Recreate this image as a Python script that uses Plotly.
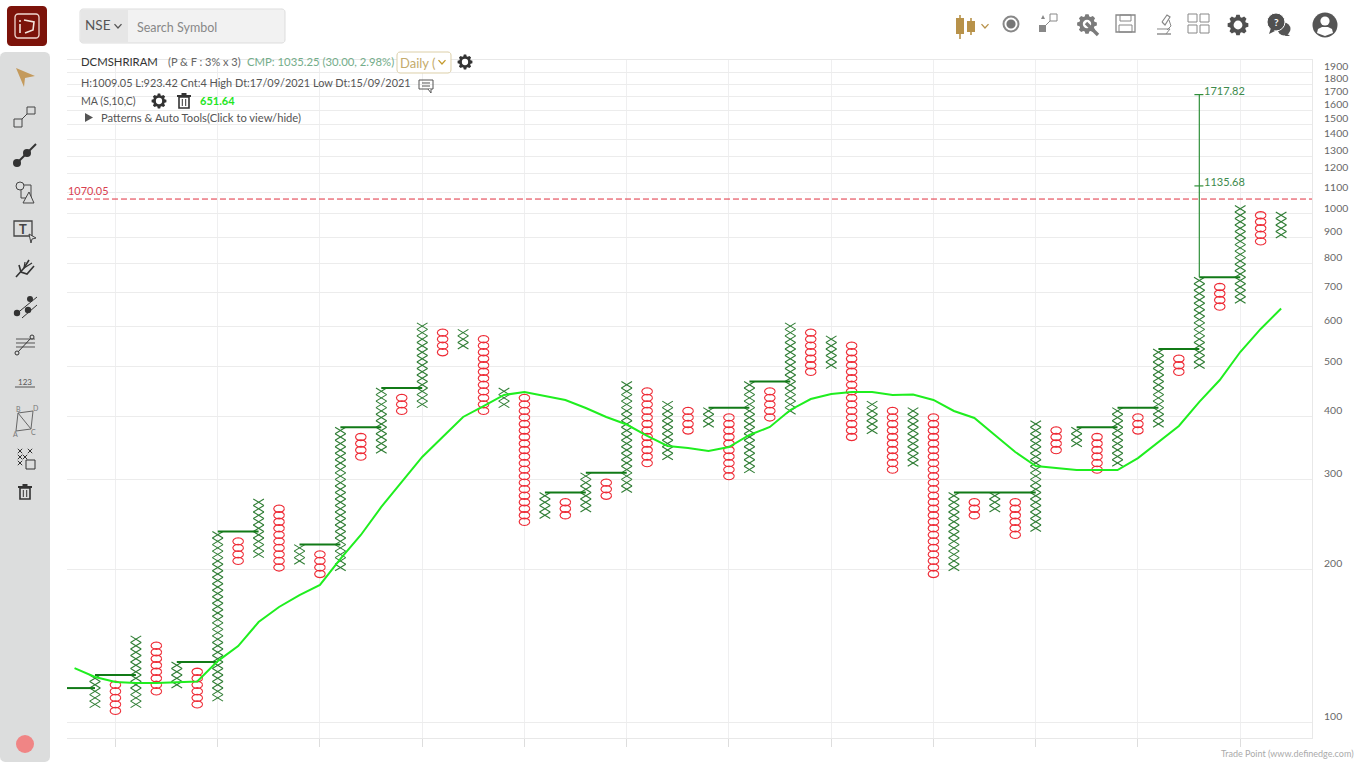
import math
import plotly.graph_objects as go

W, H = 1366, 768
FONT = "Lato"

# P&F ladder, 3% box, read down from the H: value in the header
box_prices = [1039.32, 1009.05, 979.66, 951.13, 923.42, 896.53, 870.42, 845.06, 820.45,
              796.55, 773.35, 750.83, 728.96, 707.72, 687.11, 667.10, 647.67, 628.80,
              610.49, 592.71, 575.44, 558.68, 542.41, 526.61, 511.27, 496.38, 481.92,
              467.88, 454.25, 441.02, 428.18, 415.71, 403.60, 391.84, 380.43, 369.35,
              358.59, 348.15, 338.01, 328.16, 318.60, 309.32, 300.31, 291.56, 283.07,
              274.82, 266.82, 259.05, 251.50, 244.17, 237.06, 230.16, 223.45, 216.95,
              210.63, 204.49, 198.53, 192.75, 187.14, 181.69, 176.40, 171.26, 166.27,
              161.43, 156.73, 152.16, 147.73, 143.43, 139.25, 135.19, 131.25, 127.43,
              123.72, 120.12, 116.62, 113.22, 109.92, 106.72, 103.61]

# One entry per column, left to right
col_kinds = "XOXOXOXOXOXOXOXOXOXOXOXOXOXOXOXOXOXOXOXOXOXOXOXOXOXOXOXOXOX"
col_high = [123.72, 120.12, 147.73, 143.43, 131.25, 127.43, 237.06, 230.16, 274.82, 266.82,
            223.45, 216.95, 380.43, 369.35, 454.25, 441.02, 610.49, 592.71, 592.71, 575.44,
            454.25, 441.02, 283.07, 274.82, 309.32, 300.31, 467.88, 454.25, 428.18, 415.71,
            415.71, 403.60, 467.88, 454.25, 610.49, 592.71, 575.44, 558.68, 428.18, 415.71,
            415.71, 403.60, 283.07, 274.82, 283.07, 274.82, 391.84, 380.43, 380.43, 369.35,
            415.71, 403.60, 542.41, 526.61, 750.83, 728.96, 1039.32, 1009.05, 1009.05]
col_low = [109.92, 106.72, 109.92, 116.62, 120.12, 109.92, 113.22, 210.63, 216.95, 204.49,
           210.63, 198.53, 204.49, 338.01, 348.15, 415.71, 428.18, 542.41, 558.68, 415.71,
           428.18, 251.50, 259.05, 259.05, 266.82, 283.07, 291.56, 328.16, 338.01, 380.43,
           391.84, 309.32, 318.60, 403.60, 415.71, 496.38, 511.27, 369.35, 380.43, 318.60,
           328.16, 198.53, 204.49, 259.05, 266.82, 237.06, 244.17, 348.15, 358.59, 318.60,
           328.16, 380.43, 391.84, 496.38, 511.27, 667.10, 687.11, 896.53, 923.42]

# MA (S,10,C), starts one column before the first visible one
ma_values = [127.7, 122.6, 119.9, 119.3, 119.3, 119.9, 120.2, 131.8, 141.1, 157.3,
             168.4, 177.8, 186.1, 209.4, 233.4, 265.0, 296.8, 332.4, 363.9, 398.5,
             418.8, 440.3, 446.3, 438.3, 430.4, 415.0, 398.5, 385.1, 365.6, 349.4,
             346.2, 341.6, 347.8, 367.3, 380.8, 411.3, 432.3, 442.3, 446.3, 446.3,
             440.3, 441.3, 430.4, 409.5, 396.7, 367.3, 340.0, 319.0, 316.2, 313.3,
             313.3, 313.3, 330.8, 355.8, 382.5, 426.6, 471.1, 534.9, 593.9, 651.64]

# Breakout lines
line_start = [-1.37, 0, 4, 6, 10, 12, 14, 22, 24, 30, 32, 42, 48, 50, 52, 54]
line_end = [0, 2, 6, 8, 12, 14, 16, 24, 26, 32, 34, 46, 50, 52, 54, 56]
line_price = [116.62, 123.72, 131.25, 237.06, 223.45, 380.43, 454.25, 283.07,
              309.32, 415.71, 467.88, 283.07, 380.43, 415.71, 542.41, 750.83]

target_col = 54
target_base = 750.83
target_prices = [1717.82, 1135.68]
last_price = 1070.05

y_ticks = [100, 200, 300, 400, 500, 600, 700, 800, 900, 1000, 1100, 1200, 1300,
           1400, 1500, 1600, 1700, 1800, 1900]
x_ticks = [1, 6, 11, 16, 21, 26, 31, 36, 41, 46, 51, 56]

HALF_W = 0.26  # mark half width, in columns

# Build X and O marks for every box of every column
x_x, x_y, o_x, o_y = [], [], [], []
for c, kind in enumerate(col_kinds):
    for i, top in enumerate(box_prices):
        if top > col_high[c] or top < col_low[c]:
            continue
        bot = box_prices[i + 1]
        if kind == "X":
            x_x += [c - HALF_W, c + HALF_W, None, c - HALF_W, c + HALF_W, None]
            x_y += [top, bot, None, bot, top, None]
        else:
            mid = math.log10(top * bot) / 2
            half = (math.log10(top) - math.log10(bot)) / 2 * 1.12  # rings overlap a little
            for a in range(0, 361, 30):
                o_x.append(c + HALF_W * math.cos(math.radians(a)))
                o_y.append(10 ** (mid + half * math.sin(math.radians(a))))
            o_x.append(None)
            o_y.append(None)

brk_x, brk_y = [], []
for s, e, p in zip(line_start, line_end, line_price):
    brk_x += [s, e, None]
    brk_y += [p, p, None]

tgt_x = [target_col, target_col, None]
tgt_y = [target_base, max(target_prices), None]
for p in target_prices:
    tgt_x += [target_col - 0.24, target_col + 0.2, None]
    tgt_y += [p, p, None]

fig = go.Figure()
fig.add_trace(go.Scatter(x=x_x, y=x_y, mode="lines", line=dict(color="#2f7d34", width=1.1), hoverinfo="skip"))
fig.add_trace(go.Scatter(x=o_x, y=o_y, mode="lines", line=dict(color="#ee2a35", width=1.1), hoverinfo="skip"))
fig.add_trace(go.Scatter(x=brk_x, y=brk_y, mode="lines", line=dict(color="#117a17", width=2), hoverinfo="skip"))
fig.add_trace(go.Scatter(x=tgt_x, y=tgt_y, mode="lines", line=dict(color="#2f8f3a", width=1.2), hoverinfo="skip"))
fig.add_trace(go.Scatter(x=list(range(-1, len(ma_values) - 1)), y=ma_values, mode="lines",
                         line=dict(color="#1fee1f", width=2), hoverinfo="skip"))
fig.add_trace(go.Scatter(x=[-1.37, 59.51], y=[last_price, last_price], mode="lines",
                         line=dict(color="#e0303f", width=1, dash="6px,3px"), hoverinfo="skip"))


# Page furniture is placed in pixels of the 1366x768 page
def X(v):
    return v / W


def Y(v):
    return 1 - v / H


shapes = []
notes = []


def rect(x0, y0, x1, y1, fill=None, line=None, lw=1):
    shapes.append(dict(type="rect", xref="paper", yref="paper", x0=X(x0), x1=X(x1), y0=Y(y0), y1=Y(y1),
                       fillcolor=fill or "rgba(0,0,0,0)", line=dict(color=line or "rgba(0,0,0,0)", width=lw if line else 0)))


def circ(cx, cy, r, fill=None, line=None, lw=1):
    shapes.append(dict(type="circle", xref="paper", yref="paper", x0=X(cx - r), x1=X(cx + r), y0=Y(cy - r), y1=Y(cy + r),
                       fillcolor=fill or "rgba(0,0,0,0)", line=dict(color=line or "rgba(0,0,0,0)", width=lw if line else 0)))


def poly(pts, fill=None, line=None, lw=1, closed=False):
    d = "M" + " L".join(f"{X(a):.5f},{Y(b):.5f}" for a, b in pts) + (" Z" if closed else "")
    shapes.append(dict(type="path", xref="paper", yref="paper", path=d,
                       fillcolor=fill or "rgba(0,0,0,0)", line=dict(color=line or "rgba(0,0,0,0)", width=lw if line else 0)))


def round_box(x0, y0, x1, y1, r, fill=None, line=None, lw=1):
    pts = []
    for cx, cy, start in [(x1 - r, y0 + r, -90), (x1 - r, y1 - r, 0), (x0 + r, y1 - r, 90), (x0 + r, y0 + r, 180)]:
        for a in range(start, start + 91, 30):
            pts.append((cx + r * math.cos(math.radians(a)), cy + r * math.sin(math.radians(a))))
    poly(pts, fill=fill, line=line, lw=lw, closed=True)


def text(x, y, s, color="#555", size=11.5, anchor="left", bold=False):
    notes.append(dict(xref="paper", yref="paper", x=X(x), y=Y(y), text=f"<b>{s}</b>" if bold else s,
                      showarrow=False, xanchor=anchor, yanchor="middle",
                      font=dict(family=FONT, color=color, size=size), borderpad=0, borderwidth=0))


def gear(cx, cy, r, color):
    pts = []
    for t in range(8):
        a = t * math.pi / 4
        for da, rr in [(-0.3, r * 0.78), (-0.16, r), (0.16, r), (0.3, r * 0.78)]:
            pts.append((cx + rr * math.cos(a + da), cy + rr * math.sin(a + da)))
    poly(pts, fill=color, closed=True)
    circ(cx, cy, r * 0.42, fill="white")


def trash(cx, cy, color):
    rect(cx - 5, cy - 4, cx + 5, cy + 7, line=color, lw=1.6)
    poly([(cx - 7, cy - 5), (cx + 7, cy - 5)], line=color, lw=2)
    poly([(cx - 2.5, cy - 7), (cx + 2.5, cy - 7)], line=color, lw=2)
    poly([(cx - 1.7, cy - 2), (cx - 1.7, cy + 5)], line=color, lw=1)
    poly([(cx + 1.7, cy - 2), (cx + 1.7, cy + 5)], line=color, lw=1)


def chevron(cx, cy, color, s=3.5):
    poly([(cx - s, cy - s * 0.55), (cx, cy + s * 0.55), (cx + s, cy - s * 0.55)], line=color, lw=1.3)


def small_x(cx, cy, color="#333", s=2.2):
    poly([(cx - s, cy - s), (cx + s, cy + s)], line=color, lw=1)
    poly([(cx - s, cy + s), (cx + s, cy - s)], line=color, lw=1)


# Left tool strip and logo
round_box(0, 52, 50, 762, 5, fill="#dcdddd")
round_box(7, 6, 47, 46, 4, fill="#7c130a")
round_box(15, 14, 39, 38, 3, line="#f0d8d0", lw=1.3)
poly([(24, 20), (34, 22), (33, 30), (25, 33)], line="#f4e4dc", lw=1.6)
poly([(20, 24), (20, 33)], line="#f4e4dc", lw=1.6)
circ(20, 21, 1, fill="#f4e4dc")
circ(25, 744, 9, fill="#f08585")

ICON = "#444"
poly([(16, 68), (35, 76), (25, 78), (24, 87)], fill="#c49a5c", closed=True)
rect(14, 119, 22, 127, line=ICON)
rect(27, 107, 35, 114, line=ICON)
poly([(22, 119), (27, 114)], line=ICON)
poly([(16, 164), (36, 144)], line="#333", lw=2)
circ(17, 163, 4, fill="#333")
circ(27, 153, 4, fill="#333")
rect(21, 185, 31, 198, line=ICON)
circ(20, 186, 4, fill="#dcdddd", line=ICON)
poly([(23, 203), (34, 203), (29, 192)], fill="#dcdddd", line=ICON, closed=True)
rect(14, 221, 32, 236, line=ICON, lw=1.3)
text(23, 229, "T", color=ICON, size=13, anchor="center", bold=True)
poly([(29, 234), (36, 238), (32, 239), (31, 243)], fill="#dcdddd", line=ICON, closed=True)
poly([(16, 277), (24, 268), (29, 260)], line="#333", lw=1.6)
poly([(19, 265), (21, 272), (27, 274), (34, 266)], line="#333", lw=1.6)
poly([(25, 262), (24, 268), (32, 263)], line="#333", lw=1.2)
poly([(15, 315), (37, 297)], line="#333", lw=1)
poly([(22, 318), (37, 305)], line="#333", lw=1)
circ(17, 313, 3.2, fill="#333")
circ(30, 299, 3, fill="#333")
circ(28, 310, 3.2, fill="#333")
for yy in (339, 343, 347):
    poly([(16, yy), (35, yy)], line="#555", lw=1)
poly([(17, 353), (32, 337)], line="#333", lw=1)
circ(17, 353, 2, fill="#dcdddd", line="#333")
circ(32, 337, 2, fill="#dcdddd", line="#333")
text(25, 382, "123", color="#555", size=8, anchor="center")
poly([(15, 387), (35, 387)], line="#555", lw=1)
poly([(18, 413), (33, 411), (31, 429), (16, 431), (18, 413), (31, 429)], line="#666", lw=1)
for lx, ly, s in [(18, 409, "B"), (35, 408, "D"), (15, 434, "A"), (33, 432, "C")]:
    text(lx, ly, s, color="#777", size=7, anchor="center")
for lx, ly in [(20, 451), (30, 451), (20, 457), (25, 457), (20, 463)]:
    small_x(lx, ly)
rect(26, 460, 35, 469, line="#333")
trash(25, 492, "#333")

# Top bar
round_box(80, 9, 285, 43, 3, fill="#f2f2f2", line="#dddddd")
rect(81, 10, 128, 42, fill="#e6e6e6")
text(85, 25, "NSE", color="#555", size=13.5)
chevron(118, 26, "#555")
text(137, 27, "Search Symbol", color="#888", size=12.5)

GOLD = "#b8924a"
rect(956, 18, 964, 34, fill=GOLD)
poly([(960, 15), (960, 39)], line=GOLD, lw=1.6)
rect(967, 21, 975, 32, fill=GOLD)
poly([(971, 18), (971, 35)], line=GOLD, lw=1.6)
chevron(985, 26, GOLD)
circ(1011, 24, 7.5, line="#888", lw=2)
circ(1011, 24, 4.6, fill="#777")
rect(1039, 25, 1046, 32, fill="#888")
rect(1050, 14, 1057, 21, line="#888")
poly([(1046, 25), (1050, 21)], line="#888")
poly([(1041, 19), (1045, 19), (1043, 15)], fill="#888", closed=True)
gear(1087, 24, 10, "#7b7b7b")
poly([(1086, 23), (1098, 35)], line="#7b7b7b", lw=3.4)
rect(1116, 15, 1135, 32, line="#888", lw=1.3)
rect(1120, 15, 1131, 21, line="#888")
rect(1119, 25, 1132, 32, line="#888")
poly([(1157, 34), (1171, 34)], line="#888", lw=1.4)
poly([(1157, 29), (1170, 29), (1166, 34)], line="#888")
poly([(1162, 22), (1167, 15), (1170, 17), (1165, 25), (1162, 22)], line="#888", lw=1.2)
poly([(1169, 20), (1171, 26), (1167, 30)], line="#888")
for x0, y0 in [(1188, 14), (1200, 14), (1188, 25), (1200, 25)]:
    rect(x0, y0, x0 + 9, y0 + 8, line="#888")
gear(1238, 25, 10.5, "#505050")
circ(1284, 29, 6.5, fill="#555")
poly([(1286, 33), (1290, 36), (1285, 36)], fill="#555", closed=True)
circ(1276, 22, 9, fill="#505050", line="white", lw=1)
poly([(1271, 28), (1269, 34), (1275, 31)], fill="#505050", closed=True)
text(1276, 22, "?", color="white", size=10, anchor="center", bold=True)
circ(1325, 25, 12.5, fill="#555")
circ(1325, 21, 4.6, fill="white")
poly([(1317, 33), (1318, 29), (1322, 27), (1328, 27), (1332, 29), (1333, 33), (1325, 36)], fill="white", closed=True)

# Chart header
text(81, 61, "DCMSHRIRAM", color="#333", size=11.3)
text(168, 61, "(P &amp; F : 3% x 3)", color="#666", size=11)
text(247, 61, "CMP: 1035.25 (30.00, 2.98%)", color="#74ad8a", size=11.3)
round_box(397, 52, 451, 73, 3, fill="white", line="#dccfa8")
text(400, 63, "Daily (", color="#c4ab6c", size=13)
rect(436, 55, 447, 70, fill="white")
chevron(442, 62, "#c49a2c")
gear(465, 62, 7.5, "#333")
text(81, 83, "H:1009.05 L:923.42 Cnt:4 High Dt:17/09/2021 Low Dt:15/09/2021", color="#555", size=10.9)
rect(419, 80, 433, 89, line="#555")
poly([(428, 89), (431, 93), (431, 89)], fill="white", line="#555")
poly([(422, 83), (430, 83)], line="#555")
poly([(422, 86), (430, 86)], line="#555")
text(81, 101, "MA (S,10,C)", color="#555", size=10.6)
gear(159, 101, 7.5, "#333")
trash(184, 101, "#333")
text(200, 101, "651.64", color="#22e622", size=11, bold=True)
poly([(85, 113), (93, 117.5), (85, 122)], fill="#555", closed=True)
text(101, 117, "Patterns &amp; Auto Tools(Click to view/hide)", color="#555", size=11.2)
text(1221, 753, "Trade Point (www.definedge.com)", color="#aaa", size=9)

text(68, 190, f"{last_price:.2f}", color="#d8404f", size=10.9)
for p in target_prices:
    notes.append(dict(xref="x", yref="y", x=target_col + 0.15, y=math.log10(p), yshift=4.5, text=f"{p:.2f}",
                      showarrow=False, xanchor="left", yanchor="middle",
                      font=dict(family=FONT, color="#3d8a4c", size=11)))

fig.update_layout(
    width=W, height=H, autosize=False, showlegend=False,
    margin=dict(l=0, r=0, t=0, b=0),
    paper_bgcolor="white", plot_bgcolor="white",
    font=dict(family=FONT, color="#666"),
    shapes=shapes, annotations=notes,
    xaxis=dict(domain=[67 / W, 1312 / W], range=[-1.369, 59.51], tickmode="array", tickvals=x_ticks,
               showticklabels=False, ticks="outside", ticklen=8, tickcolor="#dddddd", tickwidth=1,
               showgrid=True, gridcolor="#efeff0", gridwidth=1, zeroline=False,
               showline=True, linecolor="#e8e8e8", linewidth=1, mirror=True),
    yaxis=dict(domain=[1 - 738 / H, 1 - 60 / H], type="log", range=[1.9685, 3.3031], side="right",
               tickmode="array", tickvals=y_ticks, ticktext=[str(v) for v in y_ticks],
               ticks="", ticklabelstandoff=9, ticklabelshift=-6,
               tickfont=dict(family=FONT, color="#666", size=10.4),
               showgrid=True, gridcolor="#ececec", gridwidth=1, zeroline=False,
               showline=True, linecolor="#e8e8e8", linewidth=1, automargin=False),
)

fig.write_html("out.html", config=dict(displayModeBar=False),
               post_script="document.body.style.margin='0';document.body.style.overflow='hidden';")
